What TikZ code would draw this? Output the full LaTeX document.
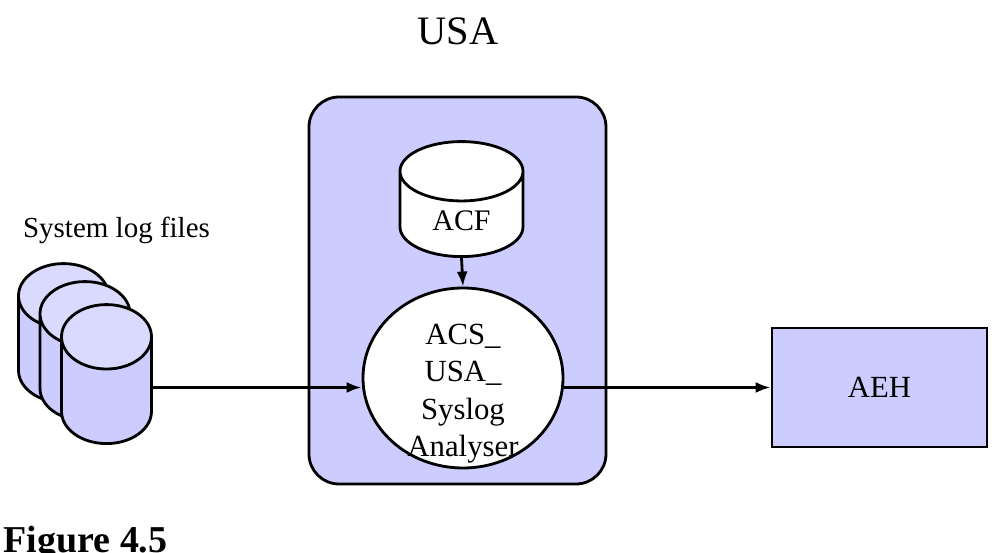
\documentclass[tikz,border=0pt]{standalone}
\usepackage{fontspec}
\setmainfont{Liberation Serif}
\usetikzlibrary{shapes.geometric,arrows.meta}
\definecolor{lav}{RGB}{204,204,255}
\definecolor{lavtop}{RGB}{218,218,255}
\begin{document}
\begin{tikzpicture}[
        site/.style={rectangle, draw, rounded corners=0.6cm, fill=lav, line width=1.6pt, minimum width=5.94cm, minimum height=7.74cm},
        logdb/.style={cylinder, shape border rotate=90, draw, line width=1.6pt, aspect=5.5, minimum width=1.8cm, minimum height=2.78cm, cylinder uses custom fill, cylinder body fill=lav, cylinder end fill=lavtop, anchor=south},
        confdb/.style={cylinder, shape border rotate=90, draw, line width=1.6pt, aspect=0.85, minimum width=2.46cm, minimum height=2.3cm, fill=white, font=\fontsize{17}{20}\selectfont, anchor=south},
        proc/.style={ellipse, draw, fill=white, line width=1.6pt, minimum width=4cm, minimum height=3.6cm},
        handler/.style={rectangle, draw, fill=lav, line width=1.6pt, minimum width=4.3cm, minimum height=2.38cm, font=\fontsize{17.5}{21}\selectfont},
        arrow/.style={-{Latex[length=0.3cm, width=0.22cm]}, line width=1.6pt}
    ]
        \useasboundingbox (0, 0) rectangle (20.02, 11.06);

        % Site box
        \node[anchor=base, font=\fontsize{23}{27}\selectfont] (title) at (9.16, 10.16) {USA};
        \node[site] (usa) at (9.15, 5.25) {};

        % Config store and analyser
        \node[confdb] (acf) at (9.23, 5.90) {ACF};
        \node[proc, label={[name=acslabel, align=center, yshift=-0.31cm, font=\fontsize{17.5}{21.3}\selectfont]center:ACS\_\\USA\_\\Syslog\\Analyser}] (acs) at (9.26, 3.50) {};
        \draw[arrow] (acf.south) -- (acs.north);

        % Log files
        \node[anchor=base, font=\fontsize{16.5}{20}\selectfont] (logtext) at (2.33, 6.30) {System log files};
        \node[logdb] (log1) at (1.27, 2.98) {};
        \node[logdb] (log2) at (1.70, 2.62) {};
        \node[logdb] (log3) at (2.13, 2.16) {};

        % Event handler
        \node[handler] (aeh) at (17.59, 3.31) {AEH};

        % Arrows
        \draw[arrow] (log3.east |- aeh.west) -- (acs.west |- aeh.west);
        \draw[arrow] (acs.east |- aeh.west) -- (aeh.west);

        % Caption
        \node[anchor=base west, font=\bfseries\fontsize{21.6}{26}\selectfont] (caption) at (-0.05, 0.0) {Figure 4.5};
    \end{tikzpicture}
\end{document}
